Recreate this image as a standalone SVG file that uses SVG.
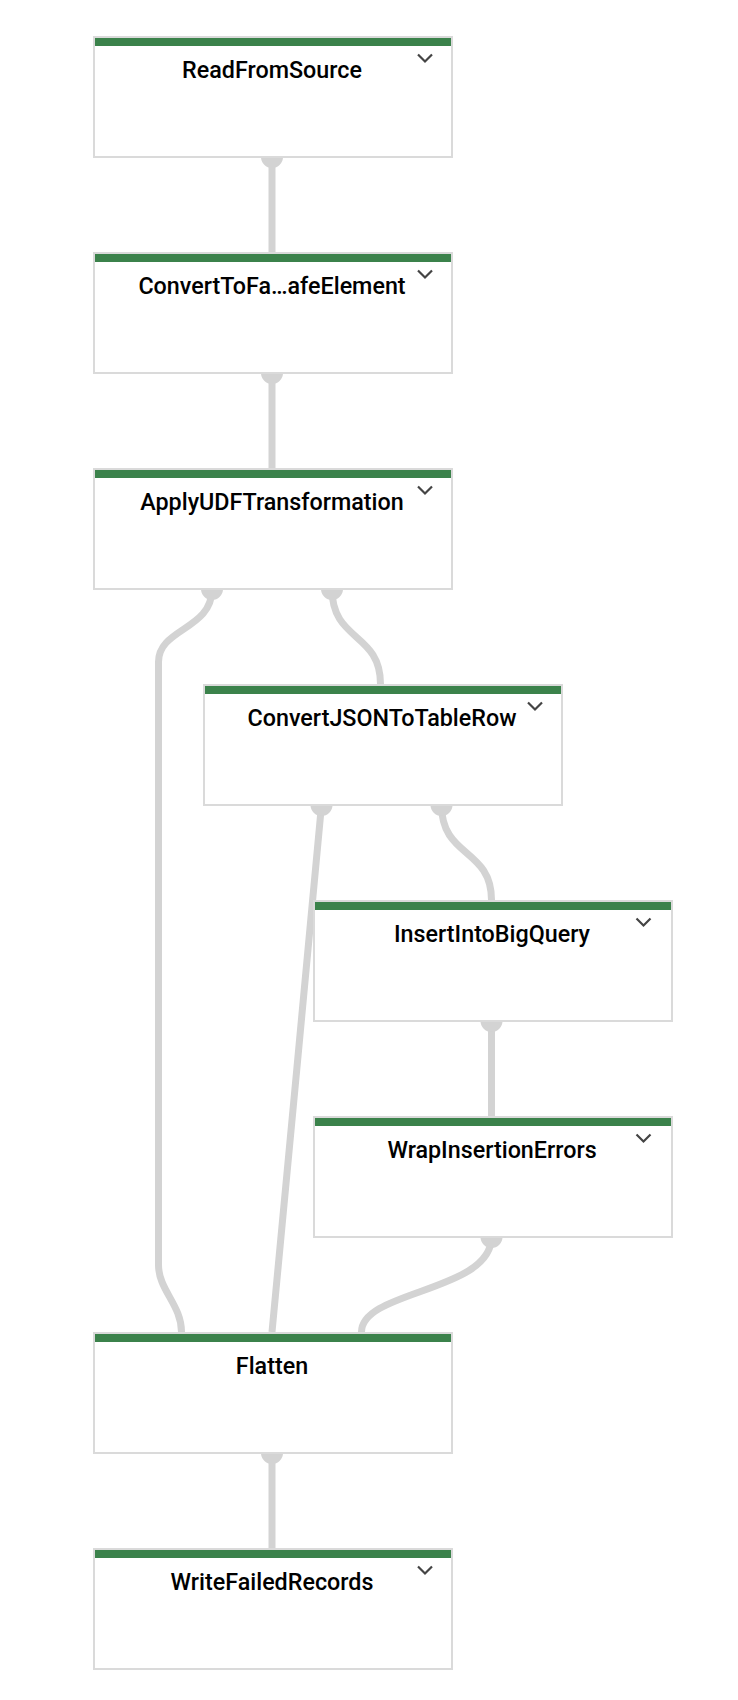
<svg xmlns="http://www.w3.org/2000/svg" width="738" height="1700" viewBox="0 0 738 1700">
<style>
.box{fill:#fff;stroke:#dadada;stroke-width:2}
.bar{fill:#3b824b}
.lbl{font-family:Roboto,"Liberation Sans",sans-serif;font-size:23.3px;font-weight:500;fill:#000;text-anchor:middle}
.chev{fill:none;stroke:#444;stroke-width:2.200}
.edge{fill:none;stroke:#d3d3d3;stroke-width:7}
.cap{fill:#d3d3d3}
</style>
<rect width="738" height="1700" fill="#fff"/>
<g id="connectors">
<path class="edge" d="M272 157V252"/>
<path class="edge" d="M272 373V468"/>
<path class="edge" d="M212 589C212 630 158.500 628 158.500 662V1265C158.500 1290 181.500 1305 181.500 1332"/>
<path class="edge" d="M332 589C332 642 380.500 632 380.500 684"/>
<path class="edge" d="M321.500 805C316 880 277.500 1260 272 1332"/>
<path class="edge" d="M441.500 805C441.500 858 491.500 848 491.500 900"/>
<path class="edge" d="M491.500 1021V1116"/>
<path class="edge" d="M491.500 1237C491.500 1292 361.500 1290 361.500 1332"/>
<path class="edge" d="M272 1453V1548"/>
<path class="cap" d="M261 157a11 11 0 0 0 22 0z"/>
<path class="cap" d="M261 373a11 11 0 0 0 22 0z"/>
<path class="cap" d="M201 589a11 11 0 0 0 22 0z"/>
<path class="cap" d="M321 589a11 11 0 0 0 22 0z"/>
<path class="cap" d="M310.500 805a11 11 0 0 0 22 0z"/>
<path class="cap" d="M430.500 805a11 11 0 0 0 22 0z"/>
<path class="cap" d="M480.500 1021a11 11 0 0 0 22 0z"/>
<path class="cap" d="M480.500 1237a11 11 0 0 0 22 0z"/>
<path class="cap" d="M261 1453a11 11 0 0 0 22 0z"/>
</g>
<g id="node-read"><rect class="box" x="94" y="37" width="358" height="120"/><rect class="bar" x="95" y="38" width="356" height="8"/><text class="lbl" x="272" y="78">ReadFromSource</text><path class="chev" d="M418 54.500l7 7 7-7"/></g>
<g id="node-convert"><rect class="box" x="94" y="253" width="358" height="120"/><rect class="bar" x="95" y="254" width="356" height="8"/><text class="lbl" x="272" y="294">ConvertToFa…afeElement</text><path class="chev" d="M418 270.500l7 7 7-7"/></g>
<g id="node-udf"><rect class="box" x="94" y="469" width="358" height="120"/><rect class="bar" x="95" y="470" width="356" height="8"/><text class="lbl" x="272" y="510">ApplyUDFTransformation</text><path class="chev" d="M418 486.500l7 7 7-7"/></g>
<g id="node-json"><rect class="box" x="204" y="685" width="358" height="120"/><rect class="bar" x="205" y="686" width="356" height="8"/><text class="lbl" x="382" y="726">ConvertJSONToTableRow</text><path class="chev" d="M528 702.500l7 7 7-7"/></g>
<g id="node-bq"><rect class="box" x="314" y="901" width="358" height="120"/><rect class="bar" x="315" y="902" width="356" height="8"/><text class="lbl" x="492" y="942">InsertIntoBigQuery</text><path class="chev" d="M636.500 918.500l7 7 7-7"/></g>
<g id="node-wrap"><rect class="box" x="314" y="1117" width="358" height="120"/><rect class="bar" x="315" y="1118" width="356" height="8"/><text class="lbl" x="492" y="1158">WrapInsertionErrors</text><path class="chev" d="M636.500 1134.500l7 7 7-7"/></g>
<g id="node-flatten"><rect class="box" x="94" y="1333" width="358" height="120"/><rect class="bar" x="95" y="1334" width="356" height="8"/><text class="lbl" x="272" y="1374">Flatten</text></g>
<g id="node-write"><rect class="box" x="94" y="1549" width="358" height="120"/><rect class="bar" x="95" y="1550" width="356" height="8"/><text class="lbl" x="272" y="1590">WriteFailedRecords</text><path class="chev" d="M418 1566.500l7 7 7-7"/></g>
</svg>
